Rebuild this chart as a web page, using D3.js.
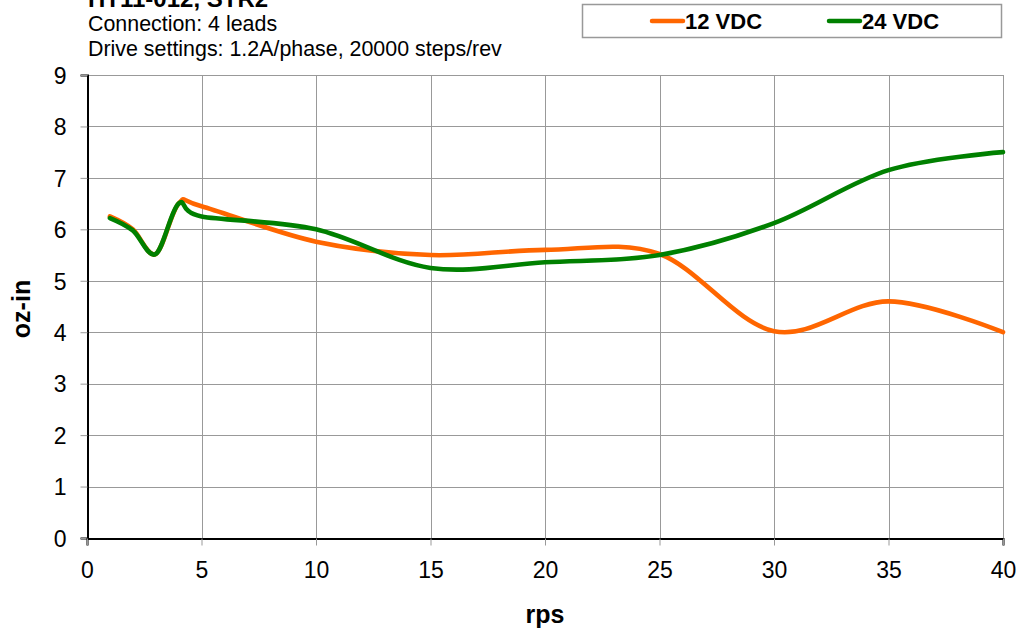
<!DOCTYPE html>
<html>
<head>
<meta charset="utf-8">
<script src="https://cdn.jsdelivr.net/npm/d3@7"></script>
<style>
  html, body { margin: 0; padding: 0; background: #fff; }
  svg { display: block; font-family: "Liberation Sans", Arial, sans-serif; }
</style>
</head>
<body>
<svg id="chart" width="1021" height="633"></svg>
<script>
// ---- Data ----
const rps12 = [1, 2, 3, 4, 5, 10, 15, 20, 25, 30, 35, 40];
const torque12 = [6.25, 6.0, 5.52, 6.5, 6.45, 5.76, 5.5, 5.6, 5.52, 4.02, 4.6, 4.0];
const rps24 = [1, 2, 3, 4, 5, 10, 15, 20, 25, 30, 35, 40];
const torque24 = [6.22, 5.98, 5.52, 6.5, 6.25, 6.0, 5.25, 5.36, 5.5, 6.12, 7.15, 7.5];
const xTicks = [0, 5, 10, 15, 20, 25, 30, 35, 40];
const yTicks = [0, 1, 2, 3, 4, 5, 6, 7, 8, 9];
const seriesNames = ["12 VDC", "24 VDC"];
const seriesColors = ["#FF6600", "#008000"];
const titleText = "HT11-012, STR2";
const subtitleLines = ["Connection: 4 leads", "Drive settings: 1.2A/phase, 20000 steps/rev"];
const xTitle = "rps";
const yTitle = "oz-in";

// ---- Layout ----
const svg = d3.select("#chart");
const pL = 87, pR = 1003, pT = 75, pB = 538;
const x = d3.scaleLinear().domain([0, 40]).range([pL, pR]);
const y = d3.scaleLinear().domain([0, 9]).range([pB, pT]);

// gridlines
const grid = svg.append("g");
grid.selectAll("line.h").data(yTicks).join("line")
  .attr("x1", pL).attr("x2", pR)
  .attr("y1", d => Math.round(y(d)) + 0.5).attr("y2", d => Math.round(y(d)) + 0.5)
  .attr("stroke", "#999").attr("stroke-width", 1);
grid.selectAll("line.v").data(xTicks).join("line")
  .attr("y1", pT).attr("y2", pB)
  .attr("x1", d => Math.round(x(d)) + 0.5).attr("x2", d => Math.round(x(d)) + 0.5)
  .attr("stroke", "#999").attr("stroke-width", 1);

// axes
const yAxis = svg.append("g").attr("transform", `translate(${pL + 0.5},0)`)
  .call(d3.axisLeft(y).tickValues(yTicks).tickSize(7).tickPadding(14).tickFormat(d3.format("d")));
const xAxis = svg.append("g").attr("transform", `translate(0,${pB + 0.5})`)
  .call(d3.axisBottom(x).tickValues(xTicks).tickSize(7).tickPadding(14).tickFormat(d3.format("d")));
[yAxis, xAxis].forEach(a => {
  a.select(".domain").attr("stroke", "#000").attr("stroke-width", 2);
  a.selectAll(".tick line").attr("stroke", "#999");
  a.selectAll(".tick text").attr("fill", "#000").style("font-size", "23px")
    .style("font-family", "'Liberation Sans', Arial, sans-serif");
});
xAxis.selectAll(".tick text").attr("y", 39).attr("dy", "0");
yAxis.selectAll(".tick text").attr("dy", "0.36em");

// lines
const line = d3.line().x(d => x(d[0])).y(d => y(d[1])).curve(d3.curveCatmullRom.alpha(0));
const data12 = rps12.map((v, i) => [v, torque12[i]]);
const data24 = rps24.map((v, i) => [v, torque24[i]]);
[data12, data24].forEach((dd, i) => {
  svg.append("path").datum(dd).attr("d", line)
    .attr("fill", "none").attr("stroke", seriesColors[i])
    .attr("stroke-width", 4.6).attr("stroke-linejoin", "round").attr("stroke-linecap", "round");
});

// titles
svg.append("text").attr("x", 88).attr("y", 7).text(titleText)
  .style("font-size", "24px").style("font-weight", "bold");
subtitleLines.forEach((t, i) => {
  svg.append("text").attr("x", 88).attr("y", 31 + i * 25).text(t).style("font-size", "21.4px");
});
svg.append("text").attr("x", 545).attr("y", 623).attr("text-anchor", "middle")
  .text(xTitle).style("font-size", "25px").style("font-weight", "bold");
svg.append("text").attr("transform", "translate(30,309) rotate(-90)").attr("text-anchor", "middle")
  .text(yTitle).style("font-size", "25px").style("font-weight", "bold");

// legend
svg.append("rect").attr("x", 582.5).attr("y", 4.5).attr("width", 419).attr("height", 33)
  .attr("fill", "#fff").attr("stroke", "#999").attr("stroke-width", 1.5);
const legX = [652, 829];
seriesNames.forEach((n, i) => {
  svg.append("line").attr("x1", legX[i]).attr("x2", legX[i] + 31).attr("y1", 21).attr("y2", 21)
    .attr("stroke", seriesColors[i]).attr("stroke-width", 4.5).attr("stroke-linecap", "round");
  svg.append("text").attr("x", legX[i] + 33).attr("y", 28.5).text(n)
    .style("font-size", "22px").style("font-weight", "bold");
});
</script>
</body>
</html>
